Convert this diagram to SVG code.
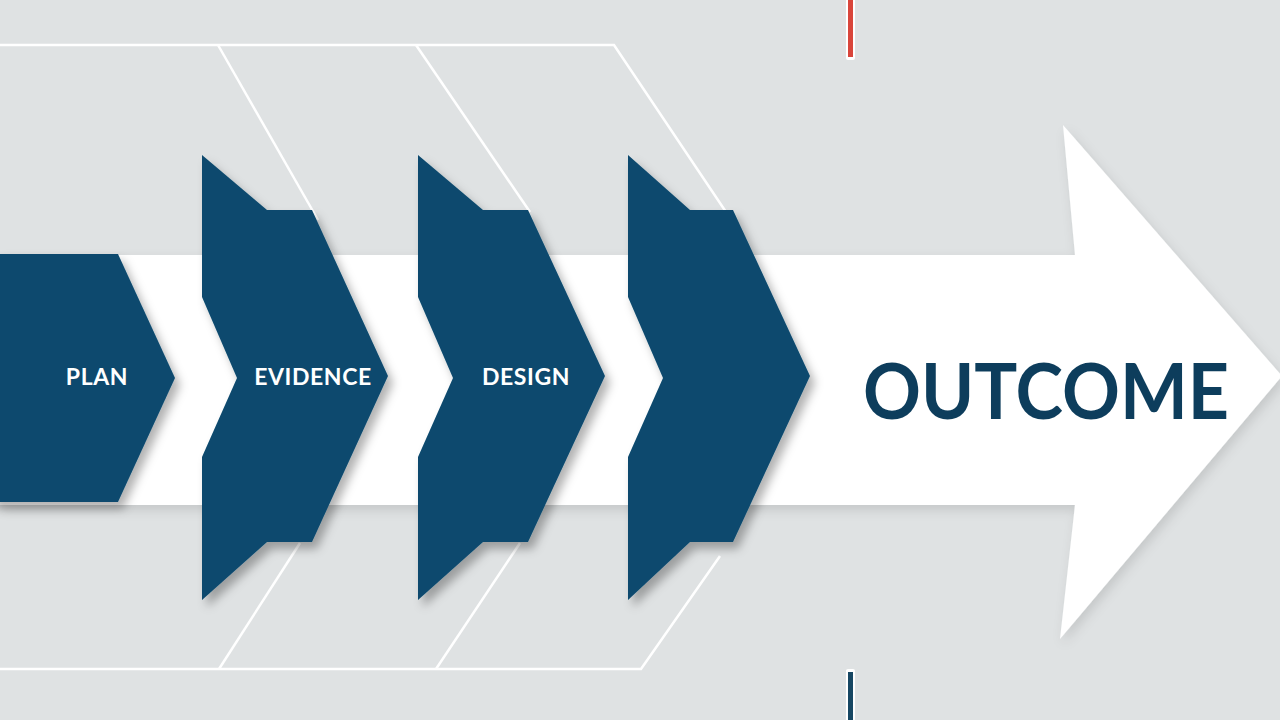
<svg xmlns="http://www.w3.org/2000/svg" width="1280" height="720" viewBox="0 0 1280 720">
  <defs>
    <filter id="sh" x="-20%" y="-20%" width="150%" height="150%">
      <feDropShadow dx="5" dy="7" stdDeviation="5" flood-color="#000" flood-opacity="0.3"/>
    </filter>
    <filter id="sh2" x="-20%" y="-20%" width="150%" height="150%">
      <feDropShadow dx="3" dy="5" stdDeviation="6" flood-color="#000" flood-opacity="0.12"/>
    </filter>
    <style>
      .chev { fill: #0b4a6e; filter: url(#sh); }
      .lbl { font-family: Lato, "Open Sans", "Liberation Sans", sans-serif; font-weight: bold; fill: #ffffff; font-size: 23px; letter-spacing: 0.6px; text-anchor: middle; }
      .guide { stroke: #ffffff; stroke-width: 2.5; fill: none; }
    </style>
  </defs>
  <rect x="0" y="0" width="1280" height="720" fill="#dfe2e3"/>

  <g id="guides" class="guide">
    <path d="M0,45 L614,45 L726,212"/>
    <path d="M218,45 L318,220"/>
    <path d="M416,45 L530,212"/>
    <path d="M0,669 L641,669 L720,556"/>
    <path d="M219,669 L300,543"/>
    <path d="M436,669 L520,543"/>
  </g>

  <g id="outcome-arrow" filter="url(#sh2)">
    <path d="M0,255 L1075,255 L1063,125 L1282,376 L1060,639 L1075,505 L0,505 Z" fill="#ffffff"/>
  </g>

  <g id="ticks">
    <rect x="846" y="-2" width="9" height="62" rx="2" fill="#ffffff"/>
    <rect x="848" y="0" width="5" height="57" fill="#d9453b"/>
    <rect x="846" y="669" width="9" height="53" rx="2" fill="#ffffff"/>
    <rect x="848" y="672" width="5" height="48" fill="#174763"/>
  </g>

  <g id="connectors"></g>

  <g id="plan">
    <polygon class="chev" points="-10,254 118,254 175,378 118,502 -10,502"/>
    <text class="lbl" x="97" y="385">PLAN</text>
  </g>
  <g id="evidence">
    <polygon class="chev" points="202,155 267,210 312,210 388,376 312,542 267,542 202,600 202,457 237,378 202,297"/>
    <text class="lbl" x="313" y="385">EVIDENCE</text>
  </g>
  <g id="design">
    <polygon class="chev" points="418,155 483,210 528,210 605,376 528,542 483,542 418,600 418,457 453,378 418,297"/>
    <text class="lbl" x="526" y="385">DESIGN</text>
  </g>
  <g id="step4">
    <polygon class="chev" points="628,155 690,210 733,210 810,376 733,542 690,542 628,600 628,457 663,378 628,297"/>
  </g>
  <g id="outcome">
    <text x="863" y="419" font-family="Lato, 'Open Sans', 'Liberation Sans', sans-serif" font-weight="bold" font-size="76" fill="#0d3d5c" textLength="366" lengthAdjust="spacingAndGlyphs">OUTCOME</text>
  </g>
</svg>
